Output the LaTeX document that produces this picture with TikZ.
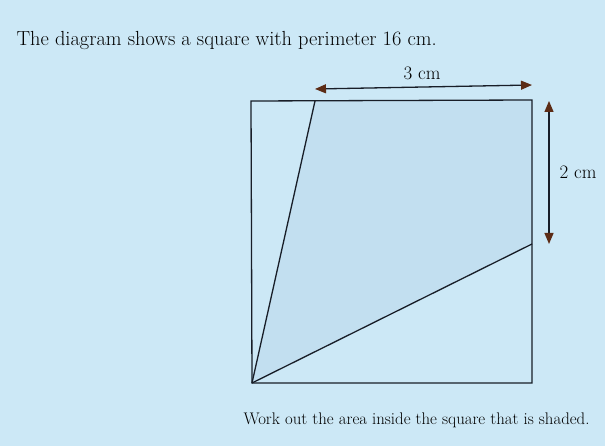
\documentclass[tikz,border=0pt]{standalone}
\usepackage{tikz}
\usepackage{xcolor}
\usetikzlibrary{shapes,arrows,arrows.meta,positioning,calc}
\definecolor{paperblue}{RGB}{204,232,246}
\definecolor{shadeblue}{RGB}{194,223,240}
\definecolor{inkdark}{RGB}{24,30,40}
\definecolor{tipbrown}{RGB}{92,44,22}
\tikzset{
  edge/.style={line width=1.3pt, inkdark},
  dimarrow/.style={line width=1.3pt, inkdark,
    {Triangle[width=9pt,length=11pt,color=tipbrown]}-{Triangle[width=9pt,length=11pt,color=tipbrown]}},
}

\begin{document}
\begin{tikzpicture}[x=1pt,y=-1pt]
				% Paper background
				\fill[paperblue] (0,0) rectangle (605,446);
				\useasboundingbox (0,0) rectangle (605,446);
				
				% Square corners and cut points
				\coordinate (bl) at (252,383);
				\coordinate (br) at (532,383);
				\coordinate (tr) at (532,100);
				\coordinate (tl) at (251,101);
				\coordinate (ptop) at (315,101);
				\coordinate (pside) at (532,244);
				
				% Shaded region
				\fill[shadeblue] (bl) -- (ptop) -- (tr) -- (pside) -- cycle;
				
				% Draw square and the two lines
				\draw[edge] (bl) -- (br) -- (tr) -- (tl) -- cycle;
				\draw[edge] (bl) -- (ptop);
				\draw[edge] (bl) -- (pside);
				
				% Draw dimension arrows
				\coordinate (wleft) at (315,89);
				\coordinate (wright) at (532,85);
				\coordinate (htop) at (549,101);
				\coordinate (hbot) at (549,244);
				\draw[dimarrow] (wleft) -- (wright);
				\draw[dimarrow] (htop) -- (hbot);
				\node[font=\fontsize{19}{22}\selectfont] (wlabel) at (422,73) {3 cm};
				\node[font=\fontsize{19}{22}\selectfont] (hlabel) at (578,172) {2 cm};
				
				% Question text
				\node[anchor=west, font=\fontsize{20.4}{24}\selectfont] (question) at (13,41) {The diagram shows a square with perimeter 16 cm.};
				\node[anchor=west, font=\fontsize{16.8}{20}\selectfont] (task) at (240,420) {Work out the area inside the square that is shaded.};
			\end{tikzpicture}
\end{document}
